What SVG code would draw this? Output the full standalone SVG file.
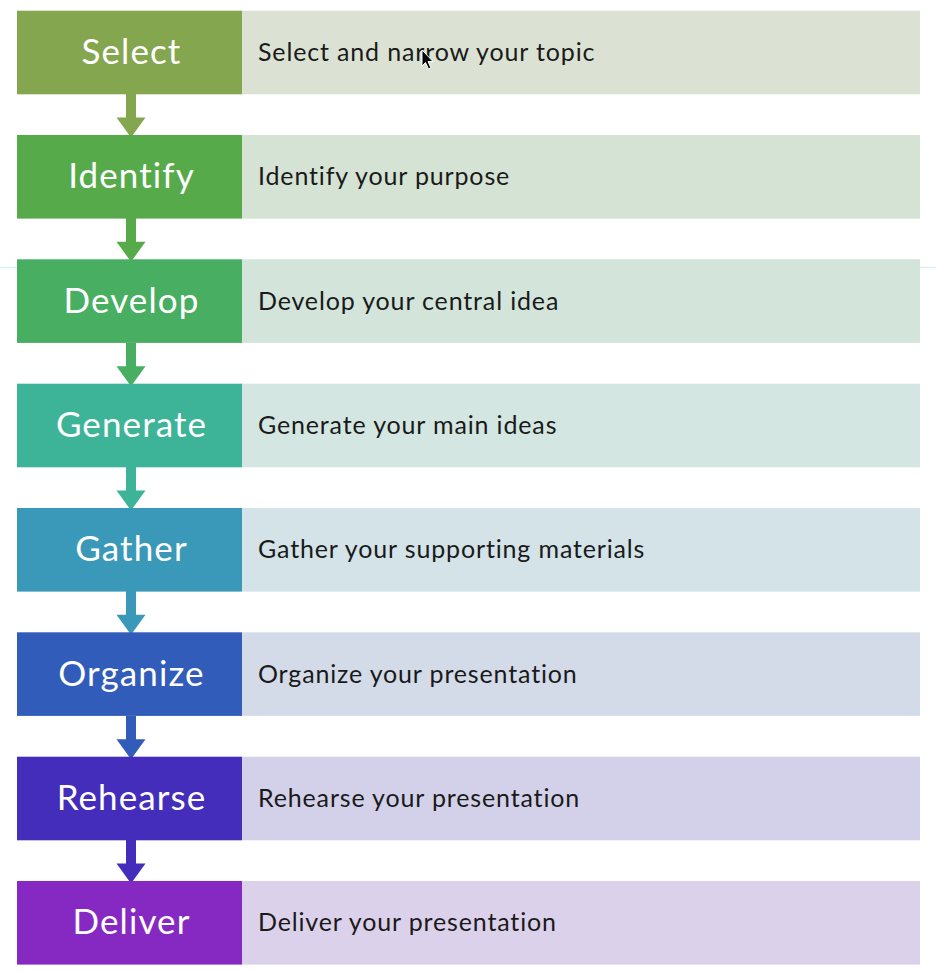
<svg xmlns="http://www.w3.org/2000/svg" width="936" height="973" viewBox="0 0 936 973">
<style>
.lbl{font-family:Lato,"Open Sans","Liberation Sans",sans-serif;font-size:35px;fill:#fff;text-anchor:middle;letter-spacing:1.1px;font-variant-ligatures:none}
.desc{font-family:Lato,"Open Sans","Liberation Sans",sans-serif;font-size:25px;fill:#1a1a1a;letter-spacing:0.85px;font-variant-ligatures:none}
</style>
<rect x="0" y="0" width="936" height="973" fill="#fff"/>
<line x1="0" y1="267.5" x2="936" y2="267.5" stroke="#dcf0f8" stroke-width="1.5"/>
<g id="connectors">
<g fill="#84a64f"><rect x="126" y="94" width="10" height="25"/><polygon points="116.5,117.5 145.5,117.5 131,137.5"/></g>
<g fill="#56aa4a"><rect x="126" y="218" width="10" height="25"/><polygon points="116.5,241.8 145.5,241.8 131,261.8"/></g>
<g fill="#47ae62"><rect x="126" y="343" width="10" height="25"/><polygon points="116.5,366.2 145.5,366.2 131,386.2"/></g>
<g fill="#3db397"><rect x="126" y="467" width="10" height="25"/><polygon points="116.5,490.5 145.5,490.5 131,510.5"/></g>
<g fill="#3a98b8"><rect x="126" y="591" width="10" height="25"/><polygon points="116.5,614.8 145.5,614.8 131,634.8"/></g>
<g fill="#325cba"><rect x="126" y="716" width="10" height="25"/><polygon points="116.5,739.2 145.5,739.2 131,759.2"/></g>
<g fill="#442dbb"><rect x="126" y="840" width="10" height="25"/><polygon points="116.5,863.5 145.5,863.5 131,883.5"/></g>
</g>
<g id="n1"><rect x="242" y="10.7" width="678" height="83.6" fill="#dce2d3"/><rect x="17" y="10.7" width="225" height="83.6" fill="#84a64f"/><text class="lbl" x="131.5" y="64">Select</text><text class="desc" x="258" y="61">Select and narrow your topic</text></g>
<g id="n2"><rect x="242" y="135" width="678" height="83.6" fill="#d5e3d5"/><rect x="17" y="135" width="225" height="83.6" fill="#56aa4a"/><text class="lbl" x="131.5" y="188.3">Identify</text><text class="desc" x="258" y="185.3">Identify your purpose</text></g>
<g id="n3"><rect x="242" y="259.3" width="678" height="83.6" fill="#d3e5da"/><rect x="17" y="259.3" width="225" height="83.6" fill="#47ae62"/><text class="lbl" x="131.5" y="312.6">Develop</text><text class="desc" x="258" y="309.6">Develop your central idea</text></g>
<g id="n4"><rect x="242" y="383.7" width="678" height="83.6" fill="#d3e6e1"/><rect x="17" y="383.7" width="225" height="83.6" fill="#3db397"/><text class="lbl" x="131.5" y="437">Generate</text><text class="desc" x="258" y="434">Generate your main ideas</text></g>
<g id="n5"><rect x="242" y="508" width="678" height="83.6" fill="#d3e3e7"/><rect x="17" y="508" width="225" height="83.6" fill="#3a98b8"/><text class="lbl" x="131.5" y="561.3">Gather</text><text class="desc" x="258" y="558.3">Gather your supporting materials</text></g>
<g id="n6"><rect x="242" y="632.3" width="678" height="83.6" fill="#d3dbe8"/><rect x="17" y="632.3" width="225" height="83.6" fill="#325cba"/><text class="lbl" x="131.5" y="685.6">Organize</text><text class="desc" x="258" y="682.6">Organize your presentation</text></g>
<g id="n7"><rect x="242" y="756.7" width="678" height="83.6" fill="#d3d1e9"/><rect x="17" y="756.7" width="225" height="83.6" fill="#442dbb"/><text class="lbl" x="131.5" y="810">Rehearse</text><text class="desc" x="258" y="807">Rehearse your presentation</text></g>
<g id="n8"><rect x="242" y="881" width="678" height="83.6" fill="#dcd1eb"/><rect x="17" y="881" width="225" height="83.6" fill="#8629c2"/><text class="lbl" x="131.5" y="934.3">Deliver</text><text class="desc" x="258" y="931.3">Deliver your presentation</text></g>
<polygon points="422,50 422,66 425.5,62.5 428.5,69 431,68 428,61.5 433,61.5" fill="#000" stroke="#fff" stroke-width="1"/>
</svg>
